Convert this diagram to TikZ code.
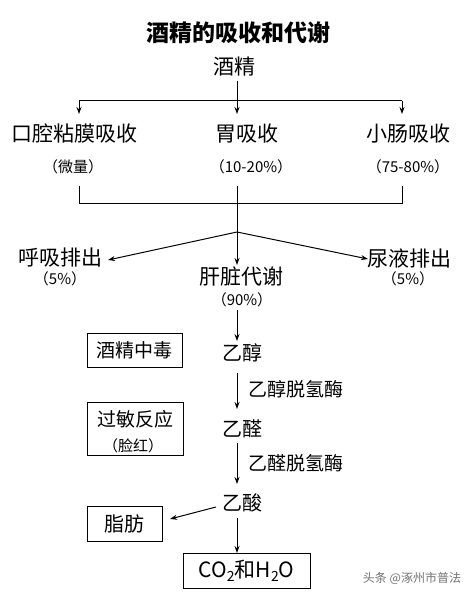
\documentclass[tikz,border=0pt]{standalone}
\usepackage{fontspec}
\newfontfamily\cjk{Noto Sans CJK SC}
\usetikzlibrary{arrows.meta}
\begin{document}
\begin{tikzpicture}[x=1pt,y=-1pt,
  ttl/.style={font=\cjk\bfseries\fontsize{23}{23}\selectfont, inner sep=0pt},
  lbl/.style={font=\cjk\fontsize{21}{21}\selectfont, inner sep=0pt},
  mid/.style={font=\cjk\fontsize{20}{20}\selectfont, inner sep=0pt},
  enz/.style={font=\cjk\fontsize{19}{19}\selectfont, inner sep=0pt},
  sub/.style={font=\cjk\fontsize{15}{15}\selectfont, inner sep=0pt},
  boxn/.style={draw, line width=1pt, inner sep=0pt},
  ln/.style={line width=1pt},
  arr/.style={line width=1pt,-{Stealth[length=7pt,width=5pt]}},
  wm/.style={font=\cjk\fontsize{12}{12}\selectfont, text=black!55, inner sep=0pt}]
\fill[white] (0,0) rectangle (472,596);
\useasboundingbox (0,0) rectangle (472,596);

% texts
\node[ttl] (title) at (238,33) {酒精的吸收和代谢};
\node[lbl] (jj) at (234,67) {酒精};
\node[lbl] (kq) at (74,134) {口腔粘膜吸收};
\node[lbl] (wei) at (247,134) {胃吸收};
\node[lbl] (xc) at (408,134) {小肠吸收};
\node[sub] (kqs) at (73,167) {（微量）};
\node[sub] (weis) at (251,167) {（10-20\%）};
\node[sub] (xcs) at (408,167) {（75-80\%）};
\node[lbl] (hx) at (60,258) {呼吸排出};
\node[sub] (hxs) at (60,279) {（5\%）};
\node[lbl] (ny) at (409,258) {尿液排出};
\node[sub] (nys) at (408,279) {（5\%）};
\node[lbl] (gz) at (241,277) {肝脏代谢};
\node[sub] (gzs) at (242,300) {（90\%）};
\node[mid] (yc) at (242,353) {乙醇};
\node[mid] (yq) at (242,429) {乙醛};
\node[mid] (ys) at (242,503) {乙酸};
\node[enz, anchor=west] (e1) at (248,389) {乙醇脱氢酶};
\node[enz, anchor=west] (e2) at (248,463) {乙醛脱氢酶};

% boxes
\node[boxn, minimum width=95pt, minimum height=34pt] (b1) at (134.5,350) {};
\node[enz] (b1t) at (134,350) {酒精中毒};
\node[boxn, minimum width=96pt, minimum height=53pt] (b2) at (135,428.5) {};
\node[enz] (b2t) at (135,419) {过敏反应};
\node[sub] (b2s) at (133,446) {（脸红）};
\node[boxn, minimum width=75pt, minimum height=35pt, font=\cjk\fontsize{20}{20}\selectfont] (b3) at (124.5,523.5) {脂肪};
\node[boxn, minimum width=127pt, minimum height=35pt, font=\cjk\fontsize{21}{21}\selectfont] (b4) at (246.5,570.5)
  {CO\raisebox{-0.35ex}{\fontsize{14}{14}\selectfont 2}和H\raisebox{-0.35ex}{\fontsize{14}{14}\selectfont 2}O};

\node[wm] (wmk) at (412,578) {头条 @涿州市普法};

% coordinates
\coordinate (t0) at (237,81);
\coordinate (t1) at (237,101);
\coordinate (tl) at (79,101);
\coordinate (tr) at (402,101);
\coordinate (al) at (79,114);
\coordinate (am) at (237,114);
\coordinate (ar) at (402,114);
\coordinate (ul) at (79,186);
\coordinate (um) at (237,186);
\coordinate (ur) at (402,186);
\coordinate (bl) at (79,203);
\coordinate (bm) at (237,203);
\coordinate (br) at (402,203);
\coordinate (sp) at (237,232);
\coordinate (gzt) at (237,265);
\coordinate (lhx) at (108,260);
\coordinate (lny) at (368,259);
\coordinate (g0) at (237,310);
\coordinate (g1) at (237,341);
\coordinate (c0) at (237,373);
\coordinate (c1) at (237,409);
\coordinate (q0) at (237,443);
\coordinate (q1) at (237,484);
\coordinate (s0) at (237,518);
\coordinate (s1) at (237,553);
\coordinate (f0) at (216,507);
\coordinate (f1) at (170,519);

% connectors
\draw[ln] (t0) -- (t1);
\draw[ln] (tl) -- (tr);
\draw[arr] (tl) -- (al);
\draw[arr] (t1) -- (am);
\draw[arr] (tr) -- (ar);
\draw[ln] (ul) -- (bl) -- (br) -- (ur);
\draw[ln] (um) -- (bm);
\draw[arr] (bm) -- (gzt);
\draw[arr] (sp) -- (lhx);
\draw[arr] (sp) -- (lny);
\draw[arr] (g0) -- (g1);
\draw[arr] (c0) -- (c1);
\draw[arr] (q0) -- (q1);
\draw[arr] (s0) -- (s1);
\draw[arr] (f0) -- (f1);
\end{tikzpicture}
\end{document}
